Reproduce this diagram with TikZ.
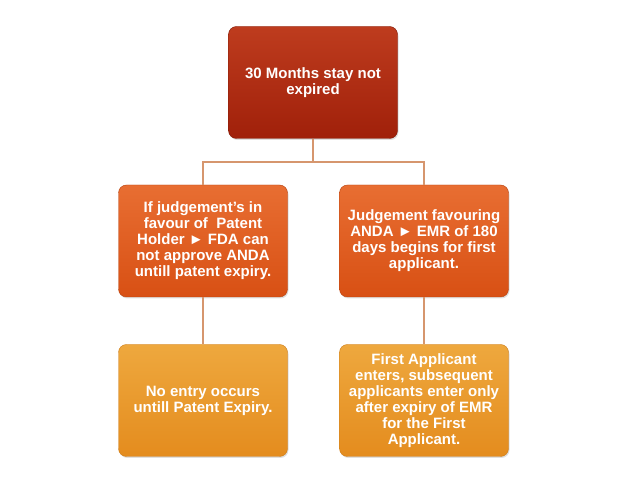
\documentclass[tikz,border=0pt]{standalone}
\usepackage{fontspec}
\setmainfont{Liberation Sans}
\usetikzlibrary{shadows}
\definecolor{topA}{RGB}{190,60,30}
\definecolor{topB}{RGB}{160,32,10}
\definecolor{midA}{RGB}{232,110,50}
\definecolor{midB}{RGB}{216,80,20}
\definecolor{botA}{RGB}{238,168,62}
\definecolor{botB}{RGB}{228,140,30}
\definecolor{conn}{RGB}{214,150,110}
\tikzset{
  box/.style={rounded corners=8pt, minimum width=169pt, minimum height=112pt,
    align=center, font=\bfseries\fontsize{15}{16}\selectfont,
    text=white, drop shadow={shadow xshift=1pt, shadow yshift=-1.5pt, opacity=0.25}},
  topbox/.style={box, top color=topA, bottom color=topB, draw=topB!80!black},
  midbox/.style={box, top color=midA, bottom color=midB, draw=midB!85!black},
  botbox/.style={box, top color=botA, bottom color=botB, draw=botB!90!black},
  link/.style={draw=conn, line width=1.4pt}
}
\begin{document}
\begin{tikzpicture}[x=1pt,y=-1pt]
\useasboundingbox (0,0) rectangle (638,478);
\node[topbox] (t) at (313,82.5) {30 Months stay not\\expired};
\node[midbox] (l) at (203,241) {If judgement’s in\\favour of \ Patent\\Holder ► FDA can\\not approve ANDA\\untill patent expiry.};
\node[midbox] (r) at (424,241) {Judgement favouring\\ANDA ► EMR of 180\\days begins for first\\applicant.};
\node[botbox] (bl) at (203,400.5) {No entry occurs\\untill Patent Expiry.};
\node[botbox] (br) at (424,400.5) {First Applicant\\enters, subsequent\\applicants enter only\\after expiry of EMR\\for the First\\Applicant.};
\coordinate (j) at (313,162);
\draw[link] (t.south) -- (j);
\draw[link] (j) -| (l.north);
\draw[link] (j) -| (r.north);
\draw[link] (l.south) -- (bl.north);
\draw[link] (r.south) -- (br.north);
\end{tikzpicture}
\end{document}
